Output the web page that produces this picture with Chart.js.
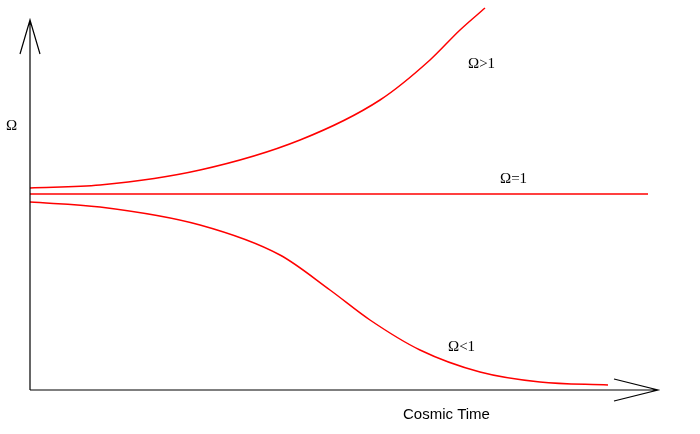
<!DOCTYPE html>
<html>
<head>
<meta charset="utf-8">
<script src="https://cdn.jsdelivr.net/npm/chart.js@4"></script>
<style>
  html, body { margin: 0; padding: 0; background: #fff; }
</style>
</head>
<body>
<canvas id="chart" width="700" height="434"></canvas>
<script>
// curve points (x = time, y = Omega, arbitrary units)
let openX = [30, 100, 200, 280, 330, 370, 420, 480, 540, 608];
let openY = [232, 227, 209, 179, 144, 114, 84, 62, 52, 49];
let closedX = [30, 100, 200, 300, 380, 430, 460, 485];
let closedY = [246, 249, 264, 294, 334, 374, 404, 426];
let flatX = [30, 648];
let flatY = [240, 240];

let labels = [
    { text: "Ω>1", x: 468, y: 370 },
    { text: "Ω=1", x: 500, y: 255 },
    { text: "Ω<1", x: 448, y: 87 },
    { text: "Cosmic Time", x: 403, y: 19 },
    { text: "Ω", x: 6, y: 308 }
];

function pts(xs, ys) {
    return xs.map((x, i) => ({ x: x, y: ys[i] }));
}

// draws the axis arrows and text labels
const decor = {
    id: 'decor',
    afterDatasetsDraw(chart) {
        let ctx = chart.ctx;
        let sx = chart.scales.x, sy = chart.scales.y;
        let px = (v) => sx.getPixelForValue(v);
        let py = (v) => sy.getPixelForValue(v);
        ctx.save();
        ctx.strokeStyle = '#000';
        ctx.lineWidth = 1.2;
        ctx.beginPath();
        // y axis
        ctx.moveTo(px(30), py(44));
        ctx.lineTo(px(30), py(414));
        ctx.moveTo(px(20), py(380));
        ctx.lineTo(px(30), py(414));
        ctx.lineTo(px(40), py(380));
        // x axis
        ctx.moveTo(px(30), py(44));
        ctx.lineTo(px(658), py(44));
        ctx.moveTo(px(614), py(55));
        ctx.lineTo(px(658), py(44));
        ctx.lineTo(px(614), py(33));
        ctx.stroke();

        ctx.fillStyle = '#000';
        ctx.font = '15px "Liberation Serif"';
        ctx.textBaseline = 'middle';
        labels.forEach((l) => {
            ctx.font = l.text === 'Cosmic Time' ? '15px "Liberation Sans"' : '15px "Liberation Serif"';
            ctx.fillText(l.text, px(l.x), py(l.y));
        });
        ctx.restore();
    }
};

let ctx = document.getElementById('chart').getContext('2d');
let line = (data) => ({
    data: data,
    borderColor: '#ff0000',
    borderWidth: 1.5,
    pointRadius: 0,
    tension: 0.4,
    cubicInterpolationMode: 'monotone',
    fill: false
});

new Chart(ctx, {
    type: 'line',
    data: {
        datasets: [
            line(pts(closedX, closedY)),
            line(pts(flatX, flatY)),
            line(pts(openX, openY))
        ]
    },
    options: {
        responsive: false,
        animation: false,
        layout: { padding: 0 },
        plugins: { legend: { display: false }, tooltip: { enabled: false } },
        scales: {
            x: { type: 'linear', min: 0, max: 700, display: false },
            y: { type: 'linear', min: 0, max: 434, display: false }
        }
    },
    plugins: [decor]
});
</script>
</body>
</html>
